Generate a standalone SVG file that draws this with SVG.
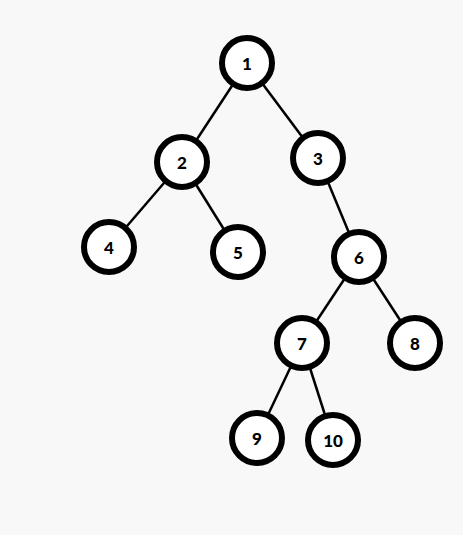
<svg xmlns="http://www.w3.org/2000/svg" width="463" height="535" viewBox="0 0 463 535">
<style>
.n circle{fill:#fff;stroke:#000;stroke-width:6}
.n text{font-family:Lato,"Liberation Sans",sans-serif;font-weight:900;font-size:17px;fill:#000;text-anchor:middle;dominant-baseline:central}
#edges line{stroke:#000;stroke-width:2.5}
</style>
<rect width="463" height="535" fill="#f8f8f8"/>
<g id="edges">
<line x1="247" y1="63" x2="182" y2="162"/>
<line x1="247" y1="63" x2="318" y2="158"/>
<line x1="182" y1="162" x2="109" y2="247"/>
<line x1="182" y1="162" x2="238" y2="252"/>
<line x1="318" y1="158" x2="359" y2="257"/>
<line x1="359" y1="257" x2="302" y2="343"/>
<line x1="359" y1="257" x2="415" y2="343"/>
<line x1="302" y1="343" x2="257" y2="438"/>
<line x1="302" y1="343" x2="333" y2="440"/>
</g>
<g id="n1" class="n"><circle cx="247" cy="63" r="25"/><text x="247" y="63">1</text></g>
<g id="n2" class="n"><circle cx="182" cy="162" r="25"/><text x="182" y="162">2</text></g>
<g id="n3" class="n"><circle cx="318" cy="158" r="25"/><text x="318" y="158">3</text></g>
<g id="n4" class="n"><circle cx="109" cy="247" r="25"/><text x="109" y="247">4</text></g>
<g id="n5" class="n"><circle cx="238" cy="252" r="25"/><text x="238" y="252">5</text></g>
<g id="n6" class="n"><circle cx="359" cy="257" r="25"/><text x="359" y="257">6</text></g>
<g id="n7" class="n"><circle cx="302" cy="343" r="25"/><text x="302" y="343">7</text></g>
<g id="n8" class="n"><circle cx="415" cy="343" r="25"/><text x="415" y="343">8</text></g>
<g id="n9" class="n"><circle cx="257" cy="438" r="25"/><text x="257" y="438">9</text></g>
<g id="n10" class="n"><circle cx="333" cy="440" r="25"/><text x="333" y="440">10</text></g>
</svg>
